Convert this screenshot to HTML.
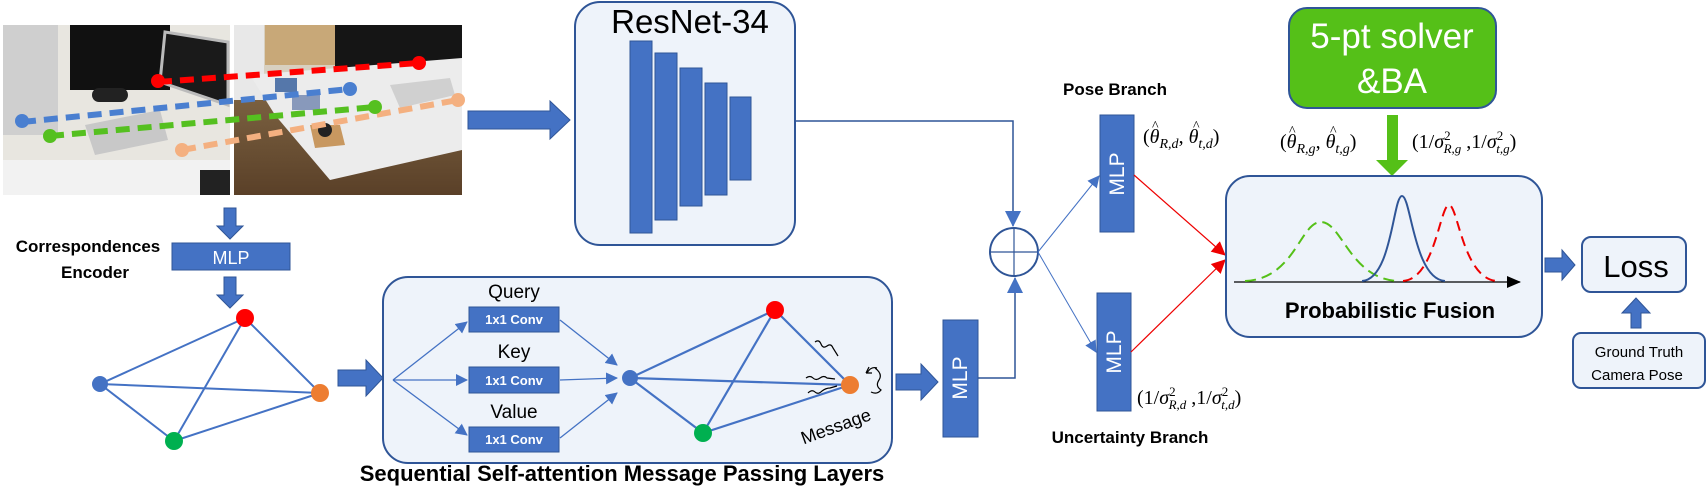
<!DOCTYPE html>
<html><head><meta charset="utf-8"><style>
html,body{margin:0;padding:0;background:#fff}
svg{display:block}
text{font-family:"Liberation Sans",sans-serif}
.b{font-weight:bold}
.m{font-family:"Liberation Serif",serif}
</style></head><body>
<svg width="1707" height="493" viewBox="0 0 1707 493" xmlns="http://www.w3.org/2000/svg">
<defs>
<marker id="ab" markerWidth="12" markerHeight="12" refX="11" refY="6" orient="auto" markerUnits="userSpaceOnUse"><path d="M0,0 L12,6 L0,12 z" fill="#4472c4"/></marker>
<marker id="ab2" markerWidth="16" markerHeight="16" refX="15" refY="8" orient="auto" markerUnits="userSpaceOnUse"><path d="M0,0 L16,8 L0,16 z" fill="#4472c4"/></marker>
<marker id="ar" markerWidth="14" markerHeight="14" refX="13" refY="7" orient="auto" markerUnits="userSpaceOnUse"><path d="M0,0 L14,7 L0,14 z" fill="#e00"/></marker>
<marker id="ak" markerWidth="14" markerHeight="12" refX="13" refY="6" orient="auto" markerUnits="userSpaceOnUse"><path d="M0,0 L14,6 L0,12 z" fill="#000"/></marker>
<linearGradient id="fl" x1="0" y1="0" x2="0" y2="1"><stop offset="0" stop-color="#7a6040"/><stop offset="1" stop-color="#5a4028"/></linearGradient>
</defs>

<!-- photos -->
<rect x="3" y="25" width="227" height="170" fill="#e8e6e0"/>
<rect x="3" y="25" width="55" height="110" fill="#cfcfcf"/>
<rect x="70" y="25" width="100" height="65" fill="#111"/>
<polygon points="165,32 228,42 228,105 160,82" fill="#1a1a1a" stroke="#bbb" stroke-width="3"/>
<rect x="92" y="88" width="36" height="14" rx="7" fill="#222"/>
<polygon points="85,125 160,110 168,140 95,155" fill="#c8c8c8"/>
<rect x="3" y="160" width="227" height="35" fill="#f2f2f2"/>
<rect x="200" y="170" width="30" height="25" fill="#222"/>
<rect x="234" y="25" width="228" height="170" fill="#d8d0c0"/>
<rect x="234" y="25" width="30" height="85" fill="#e8e8e8"/>
<rect x="234" y="100" width="228" height="95" fill="url(#fl)"/>
<rect x="265" y="25" width="75" height="40" fill="#c8a878"/>
<rect x="335" y="25" width="127" height="50" fill="#151515"/>
<polygon points="250,75 462,58 462,150 330,180 275,115" fill="#ececec"/>
<polygon points="390,85 450,78 455,95 400,108" fill="#d0d0d0"/>
<rect x="275" y="78" width="22" height="14" fill="#5577aa"/>
<rect x="292" y="95" width="28" height="15" fill="#8899bb"/>
<polygon points="310,125 340,125 345,145 315,148" fill="#c89860"/>
<circle cx="325" cy="130" r="7" fill="#222"/>
<g stroke-width="6" stroke-dasharray="14,8" fill="none">
<line x1="158" y1="82" x2="419" y2="63" stroke="#ff0000"/>
<line x1="22" y1="122" x2="350" y2="89" stroke="#4a7fd0"/>
<line x1="50" y1="136" x2="375" y2="107" stroke="#55c020"/>
<line x1="182" y1="150" x2="458" y2="100" stroke="#f4b080"/>
</g>
<circle cx="158" cy="81" r="7" fill="#ff0000"/><circle cx="419" cy="63" r="7" fill="#ff0000"/>
<circle cx="22" cy="121" r="7" fill="#4a7fd0"/><circle cx="350" cy="89" r="7" fill="#4a7fd0"/>
<circle cx="50" cy="136" r="7" fill="#55c020"/><circle cx="375" cy="107" r="7" fill="#55c020"/>
<circle cx="182" cy="150" r="7" fill="#f4b080"/><circle cx="458" cy="100" r="7" fill="#f4b080"/>

<!-- fat arrows -->
<g fill="#4472c4" stroke="#2f5597" stroke-width="1">
<polygon points="468,111 550,111 550,101 570,120 550,139 550,129 468,129"/>
<polygon points="224,208 236,208 236,226 243,226 230,239 217,226 224,226"/>
<polygon points="224,277 236,277 236,295 243,295 230,308 217,295 224,295"/>
<polygon points="338,370 366,370 366,360 383,378 366,396 366,386 338,386"/>
<polygon points="896,374 921,374 921,364 938,382 921,400 921,390 896,390"/>
<polygon points="1545,258 1562,258 1562,250 1575,265 1562,280 1562,272 1545,272"/>
<polygon points="1631,328 1641,328 1641,313 1650,313 1636,298 1622,313 1631,313"/>
</g>

<text x="88" y="252" font-size="17" class="b" text-anchor="middle">Correspondences</text>
<text x="95" y="278" font-size="17" class="b" text-anchor="middle">Encoder</text>
<rect x="172" y="243" width="118" height="27" fill="#4472c4" stroke="#2f5597"/>
<text x="231" y="264" font-size="18" fill="#fff" text-anchor="middle">MLP</text>

<!-- left graph -->
<g stroke="#4472c4" stroke-width="2">
<line x1="100" y1="384" x2="245" y2="318"/><line x1="100" y1="384" x2="320" y2="393"/>
<line x1="100" y1="384" x2="174" y2="441"/><line x1="245" y1="318" x2="320" y2="393"/>
<line x1="245" y1="318" x2="174" y2="441"/><line x1="174" y1="441" x2="320" y2="393"/>
</g>
<circle cx="100" cy="384" r="8" fill="#4472c4"/><circle cx="245" cy="318" r="9" fill="#f00"/>
<circle cx="320" cy="393" r="9" fill="#ed7d31"/><circle cx="174" cy="441" r="9" fill="#00b050"/>

<!-- ResNet -->
<rect x="575" y="2" width="220" height="243" rx="25" fill="#eef3fa" stroke="#2f5597" stroke-width="2"/>
<text x="690" y="33" font-size="33" text-anchor="middle">ResNet-34</text>
<g fill="#4472c4" stroke="#2f5597">
<rect x="630" y="41" width="22" height="192"/>
<rect x="655" y="53" width="22" height="167"/>
<rect x="680" y="68" width="22" height="138"/>
<rect x="705" y="83" width="22" height="112"/>
<rect x="730" y="97" width="21" height="83"/>
</g>

<!-- Sequential box -->
<rect x="383" y="277" width="509" height="186" rx="25" fill="#eef3fa" stroke="#2f5597" stroke-width="2"/>
<text x="622" y="481" font-size="22" class="b" text-anchor="middle">Sequential Self-attention Message Passing Layers</text>
<text x="514" y="298" font-size="19" text-anchor="middle">Query</text>
<text x="514" y="358" font-size="19" text-anchor="middle">Key</text>
<text x="514" y="418" font-size="19" text-anchor="middle">Value</text>
<g fill="#4472c4" stroke="#2f5597">
<rect x="469" y="307" width="90" height="25"/><rect x="469" y="367" width="90" height="26"/><rect x="469" y="427" width="90" height="25"/>
</g>
<g font-size="13" class="b" fill="#fff" text-anchor="middle">
<text x="514" y="324">1x1 Conv</text><text x="514" y="385">1x1 Conv</text><text x="514" y="444">1x1 Conv</text>
</g>
<g stroke="#4472c4" stroke-width="1.3" marker-end="url(#ab)">
<line x1="393" y1="380" x2="467" y2="322"/>
<line x1="393" y1="380" x2="467" y2="380"/>
<line x1="393" y1="380" x2="467" y2="435"/>
<line x1="560" y1="320" x2="617" y2="365"/>
<line x1="560" y1="380" x2="617" y2="378"/>
<line x1="560" y1="438" x2="617" y2="393"/>
</g>
<g stroke="#4472c4" stroke-width="2.2">
<line x1="630" y1="378" x2="775" y2="310"/><line x1="630" y1="378" x2="850" y2="385"/>
<line x1="630" y1="378" x2="703" y2="433"/><line x1="775" y1="310" x2="703" y2="433"/>
<line x1="775" y1="310" x2="850" y2="385"/><line x1="703" y1="433" x2="850" y2="385"/>
</g>
<circle cx="630" cy="378" r="8" fill="#4472c4"/><circle cx="775" cy="310" r="9" fill="#f00"/>
<circle cx="850" cy="385" r="9" fill="#ed7d31"/><circle cx="703" cy="433" r="9" fill="#00b050"/>
<g stroke="#000" stroke-width="1.2" fill="none">
<path d="M815,342 q4,-3 6,2 q2,5 6,2 q4,-3 6,2 l5,8"/>
<path d="M806,378 q4,-3 7,0 q3,3 7,0 q4,-3 7,0 l8,1"/>
<path d="M808,393 q4,-4 7,-1 q3,3 7,-1 q4,-3 8,-3 l7,-2"/>
<path d="M877,368 q-6,-2 -10,5 M866,373 l3,-6 M866,373 l6,0 M875,368 q8,6 4,12 q-4,6 2,10 q-4,5 -10,2"/>
</g>
<text x="838" y="432" font-size="18" transform="rotate(-20 838 432)" text-anchor="middle">Message</text>

<!-- MLP after seq -->
<rect x="943" y="320" width="35" height="117" fill="#4472c4" stroke="#2f5597"/>
<text x="967" y="378" font-size="21" fill="#fff" text-anchor="middle" transform="rotate(-90 967 378)">MLP</text>
<g stroke="#2f5597" stroke-width="1.5" fill="none">
<polyline points="795,121 1013,121 1013,226" marker-end="url(#ab2)"/>
<polyline points="978,378 1015,378 1015,278" marker-end="url(#ab2)"/>
</g>
<circle cx="1014" cy="252" r="24" fill="#fff" stroke="#2f5597" stroke-width="2"/>
<line x1="990" y1="252" x2="1038" y2="252" stroke="#2f5597" stroke-width="1.2"/>
<line x1="1014" y1="228" x2="1014" y2="276" stroke="#2f5597" stroke-width="1.2"/>
<g stroke="#4472c4" stroke-width="1" marker-end="url(#ab)">
<line x1="1038" y1="252" x2="1099" y2="176"/>
<line x1="1038" y1="252" x2="1096" y2="352"/>
</g>

<!-- branches -->
<text x="1115" y="95" font-size="17" class="b" text-anchor="middle">Pose Branch</text>
<rect x="1100" y="115" width="34" height="117" fill="#4472c4" stroke="#2f5597"/>
<text x="1124" y="174" font-size="21" fill="#fff" text-anchor="middle" transform="rotate(-90 1124 174)">MLP</text>
<rect x="1097" y="293" width="34" height="118" fill="#4472c4" stroke="#2f5597"/>
<text x="1121" y="352" font-size="21" fill="#fff" text-anchor="middle" transform="rotate(-90 1121 352)">MLP</text>
<text x="1130" y="443" font-size="17" class="b" text-anchor="middle">Uncertainty Branch</text>
<text x="1143" y="143" font-size="20" class="m">(<tspan font-style="italic">θ</tspan><tspan font-size="14" font-style="italic" dy="5">R,d</tspan><tspan dy="-5">, </tspan><tspan font-style="italic">θ</tspan><tspan font-size="14" font-style="italic" dy="5">t,d</tspan><tspan dy="-5">)</tspan></text>
<text x="1152" y="130" font-size="14" class="m">^</text><text x="1193" y="130" font-size="14" class="m">^</text>
<text x="1137" y="404" font-size="20" class="m">(1/<tspan font-style="italic">σ</tspan><tspan font-size="13" dy="-8">2</tspan><tspan font-size="13" font-style="italic" dx="-7" dy="13">R,d</tspan><tspan dy="-5"> ,1/</tspan><tspan font-style="italic">σ</tspan><tspan font-size="13" dy="-8">2</tspan><tspan font-size="13" font-style="italic" dx="-7" dy="13">t,d</tspan><tspan dy="-5">)</tspan></text>
<g stroke="#e00" stroke-width="1.2">
<line x1="1134" y1="175" x2="1225" y2="255" marker-end="url(#ar)"/>
<line x1="1131" y1="352" x2="1225" y2="260" marker-end="url(#ar)"/>
</g>

<!-- solver -->
<rect x="1289" y="8" width="207" height="100" rx="18" fill="#55c018" stroke="#2f5597" stroke-width="2"/>
<text x="1392" y="48" font-size="35" fill="#fff" text-anchor="middle">5-pt solver</text>
<text x="1392" y="93" font-size="35" fill="#fff" text-anchor="middle">&amp;BA</text>
<polygon points="1387,115 1398,115 1398,160 1408,160 1392,176 1376,160 1387,160" fill="#55c018"/>
<text x="1280" y="148" font-size="20" class="m">(<tspan font-style="italic">θ</tspan><tspan font-size="14" font-style="italic" dy="5">R,g</tspan><tspan dy="-5">, </tspan><tspan font-style="italic">θ</tspan><tspan font-size="14" font-style="italic" dy="5">t,g</tspan><tspan dy="-5">)</tspan></text>
<text x="1289" y="135" font-size="14" class="m">^</text><text x="1330" y="135" font-size="14" class="m">^</text>
<text x="1412" y="148" font-size="20" class="m">(1/<tspan font-style="italic">σ</tspan><tspan font-size="13" dy="-8">2</tspan><tspan font-size="13" font-style="italic" dx="-7" dy="13">R,g</tspan><tspan dy="-5"> ,1/</tspan><tspan font-style="italic">σ</tspan><tspan font-size="13" dy="-8">2</tspan><tspan font-size="13" font-style="italic" dx="-7" dy="13">t,g</tspan><tspan dy="-5">)</tspan></text>

<!-- fusion -->
<rect x="1226" y="176" width="316" height="161" rx="24" fill="#eef3fa" stroke="#2f5597" stroke-width="2"/>
<line x1="1234" y1="282" x2="1520" y2="282" stroke="#000" stroke-width="1.3" marker-end="url(#ak)"/>
<path d="M1245,281 C1295,279 1300,222 1321,222 C1342,222 1350,279 1398,281" stroke="#55c018" stroke-width="2" fill="none" stroke-dasharray="11,6"/>
<path d="M1362,281 C1392,279 1393,196 1402,196 C1411,196 1414,279 1445,281" stroke="#2f5597" stroke-width="2" fill="none"/>
<path d="M1403,281 C1435,279 1440,205 1449,205 C1458,205 1463,279 1497,281" stroke="#e00" stroke-width="2" fill="none" stroke-dasharray="10,6"/>
<text x="1390" y="318" font-size="22" class="b" text-anchor="middle">Probabilistic Fusion</text>

<rect x="1582" y="237" width="104" height="55" rx="9" fill="#eef3fa" stroke="#2f5597" stroke-width="2"/>
<text x="1636" y="277" font-size="31" text-anchor="middle">Loss</text>
<rect x="1573" y="333" width="132" height="55" rx="8" fill="#eef3fa" stroke="#2f5597" stroke-width="2"/>
<text x="1639" y="357" font-size="15" text-anchor="middle">Ground Truth</text>
<text x="1637" y="380" font-size="15" text-anchor="middle">Camera Pose</text>
</svg>
</body></html>
